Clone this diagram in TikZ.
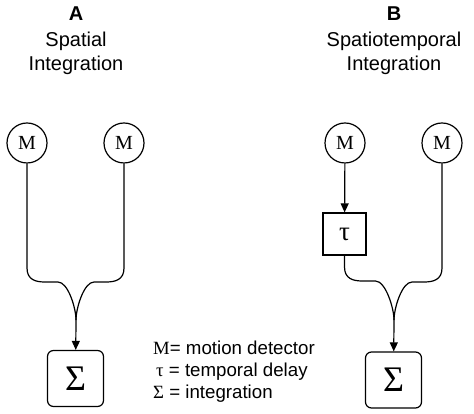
\documentclass[tikz,border=0pt]{standalone}
\usepackage{fontspec}
\setmainfont{Liberation Sans}
\newfontfamily\symfont{Liberation Serif}
\usetikzlibrary{arrows.meta}

\tikzset{
  detector/.style={draw, circle, line width=1.2pt, minimum size=40pt, inner sep=0pt,
                   font=\symfont\fontsize{20}{20}\selectfont},
  delaybox/.style={draw, line width=1.2pt, minimum width=43pt, minimum height=42pt,
                   inner sep=0pt, font=\symfont\fontsize{27}{27}\selectfont},
  sumbox/.style={draw, line width=1.2pt, rounded corners=6pt, minimum width=56pt,
                 minimum height=56pt, inner sep=0pt, font=\symfont\fontsize{36}{36}\selectfont},
  title/.style={anchor=base, inner sep=0pt, font=\fontsize{20}{24}\selectfont},
  legend/.style={anchor=base west, inner sep=0pt, font=\fontsize{18.7}{22}\selectfont},
  wire/.style={line width=1.2pt},
  feed/.style={wire, -{Triangle[length=9pt,width=8pt]}}
}

\begin{document}
\begin{tikzpicture}[x=1pt, y=1pt]
  \useasboundingbox (0,0) rectangle (474,414);

  % headings
  \node[title, font=\bfseries\fontsize{20}{24}\selectfont] (headA) at (76,393) {A};
  \node[title] (spatA) at (76,367) {Spatial};
  \node[title] (intA) at (76,343) {Integration};
  \node[title, font=\bfseries\fontsize{20}{24}\selectfont] (headB) at (394,393) {B};
  \node[title] (spatB) at (394,367) {Spatiotemporal};
  \node[title] (intB) at (394,343) {Integration};

  % panel A
  \node[detector] (mA1) at (27,271) {M};
  \node[detector] (mA2) at (124,271) {M};
  \node[sumbox] (sA) at (75.5,35.5) {Σ};
  \coordinate (jA) at (76,94);
  \draw[wire] (mA1) -- ++(0,-125) .. controls +(0,-12) and +(-9,0) .. ++(18,-14)
    -- ++(13,0) .. controls +(10,0) and +(0,12) .. (jA);
  \draw[wire] (mA2) -- ++(0,-125) .. controls +(0,-12) and +(9,0) .. ++(-18,-14)
    -- ++(-12,0) .. controls +(-10,0) and +(0,12) .. (jA);
  \draw[feed] (jA) -- (sA);

  % panel B
  \node[detector] (mB1) at (345,271) {M};
  \node[detector] (mB2) at (442,271) {M};
  \node[delaybox] (tB) at (344.5,180) {τ};
  \node[sumbox] (sB) at (393.5,34) {Σ};
  \coordinate (jB) at (394,94);
  \draw[feed] (mB1) -- (tB);
  \draw[wire] (tB) -- ++(0,-33) .. controls +(0,-12) and +(-9,0) .. ++(18,-14)
    -- ++(13,0) .. controls +(10,0) and +(0,12) .. (jB);
  \draw[wire] (mB2) -- ++(0,-125) .. controls +(0,-12) and +(9,0) .. ++(-18,-14)
    -- ++(-12,0) .. controls +(-10,0) and +(0,12) .. (jB);
  \draw[feed] (jB) -- (sB);

  % key
  \node[legend] (keyM) at (153,59) {{\symfont M}= motion detector};
  \node[legend] (keyT) at (156,37) {{\symfont τ} = temporal delay};
  \node[legend] (keyS) at (153,15) {{\symfont Σ} = integration};
\end{tikzpicture}
\end{document}
